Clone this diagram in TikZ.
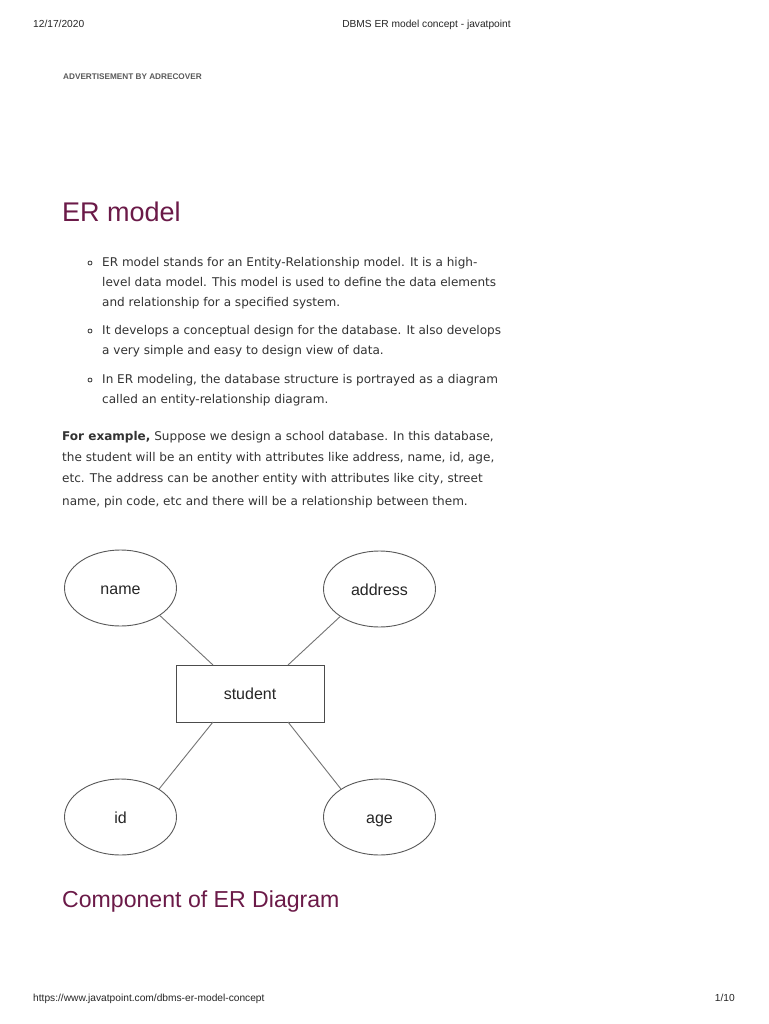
\documentclass[tikz,border=0pt]{standalone}
\usepackage{fontspec}
\setmainfont{DejaVu Sans}
\newfontfamily\arialf{Liberation Sans}
\definecolor{headc}{HTML}{6B1A48}
\definecolor{bodyc}{HTML}{333333}
\usetikzlibrary{shapes.geometric}
\begin{document}
\begin{tikzpicture}[x=1pt,y=-1pt,
 lab/.style={anchor=base west,inner sep=0pt,font=\arialf\fontsize{10.2}{12}\selectfont,text=black!85},
 bodyt/.style={anchor=base west,inner sep=0pt,font=\fontsize{12.05}{14}\selectfont,text=bodyc},
 bul/.style={draw=bodyc,circle,inner sep=0pt,minimum size=4pt,line width=0.8pt},
 attr/.style={draw=black!65,ellipse,minimum width=112pt,minimum height=76pt,inner sep=0pt,line width=0.9pt,font=\arialf\fontsize{16}{18}\selectfont,text=black!85,text height=14pt,text depth=2pt},
 ent/.style={draw=black!70,rectangle,minimum width=148pt,minimum height=57pt,inner sep=0pt,line width=0.9pt,font=\arialf\fontsize{16}{18}\selectfont,text=black!85},
 link/.style={draw=black!55,line width=0.9pt}]
\useasboundingbox (0,0) rectangle (768,1024);
\fill[white] (0,0) rectangle (768,1024);
\node[lab] (date) at (33,28) {12/17/2020};
\node[lab,anchor=base] (title) at (426.5,28) {DBMS ER model concept - javatpoint};
\node[lab,font=\arialf\bfseries\fontsize{8.2}{10}\selectfont,text=black!65] (ad) at (63,79.5) {ADVERTISEMENT BY ADRECOVER};
\node[lab,font=\arialf\fontsize{27}{31}\selectfont,text=headc] (h1) at (62,222) {ER model};
\node[bul] (b1) at (90,263) {};
\node[bodyt] (t11) at (102,266) {ER model stands for an Entity-Relationship model. It is a high-};
\node[bodyt] (t12) at (102,286) {level data model. This model is used to define the data elements};
\node[bodyt] (t13) at (102,306) {and relationship for a specified system.};
\node[bul] (b2) at (90,331) {};
\node[bodyt] (t21) at (102,334) {It develops a conceptual design for the database. It also develops};
\node[bodyt] (t22) at (102,354) {a very simple and easy to design view of data.};
\node[bul] (b3) at (90,380) {};
\node[bodyt] (t31) at (102,383) {In ER modeling, the database structure is portrayed as a diagram};
\node[bodyt] (t32) at (102,403) {called an entity-relationship diagram.};
\node[bodyt] (p1) at (62,440) {\textbf{For example,} Suppose we design a school database. In this database,};
\node[bodyt] (p2) at (62,461) {the student will be an entity with attributes like address, name, id, age,};
\node[bodyt] (p3) at (62,482) {etc. The address can be another entity with attributes like city, street};
\node[bodyt] (p4) at (62,505) {name, pin code, etc and there will be a relationship between them.};
\node[attr] (name) at (120.5,588) {name};
\node[attr] (address) at (379.5,589) {address};
\node[ent] (student) at (250,693.5) {student};
\node[attr] (id) at (120.5,817) {id};
\node[attr] (age) at (379.5,817) {age};
\coordinate (sa) at (213,665);
\coordinate (sb) at (288,665);
\coordinate (sc) at (213,722);
\coordinate (sd) at (288,722);
\draw[link] (name.-35) -- (sa);
\draw[link] (address.215) -- (sb);
\draw[link] (id.36) -- (sc);
\draw[link] (age.144) -- (sd);
\node[lab,font=\arialf\fontsize{23.1}{28}\selectfont,text=headc] (h2) at (62,907) {Component of ER Diagram};
\node[lab] (url) at (33,1001) {https://www.javatpoint.com/dbms-er-model-concept};
\node[lab,anchor=base east] (pg) at (735,1001) {1/10};
\end{tikzpicture}
\end{document}
